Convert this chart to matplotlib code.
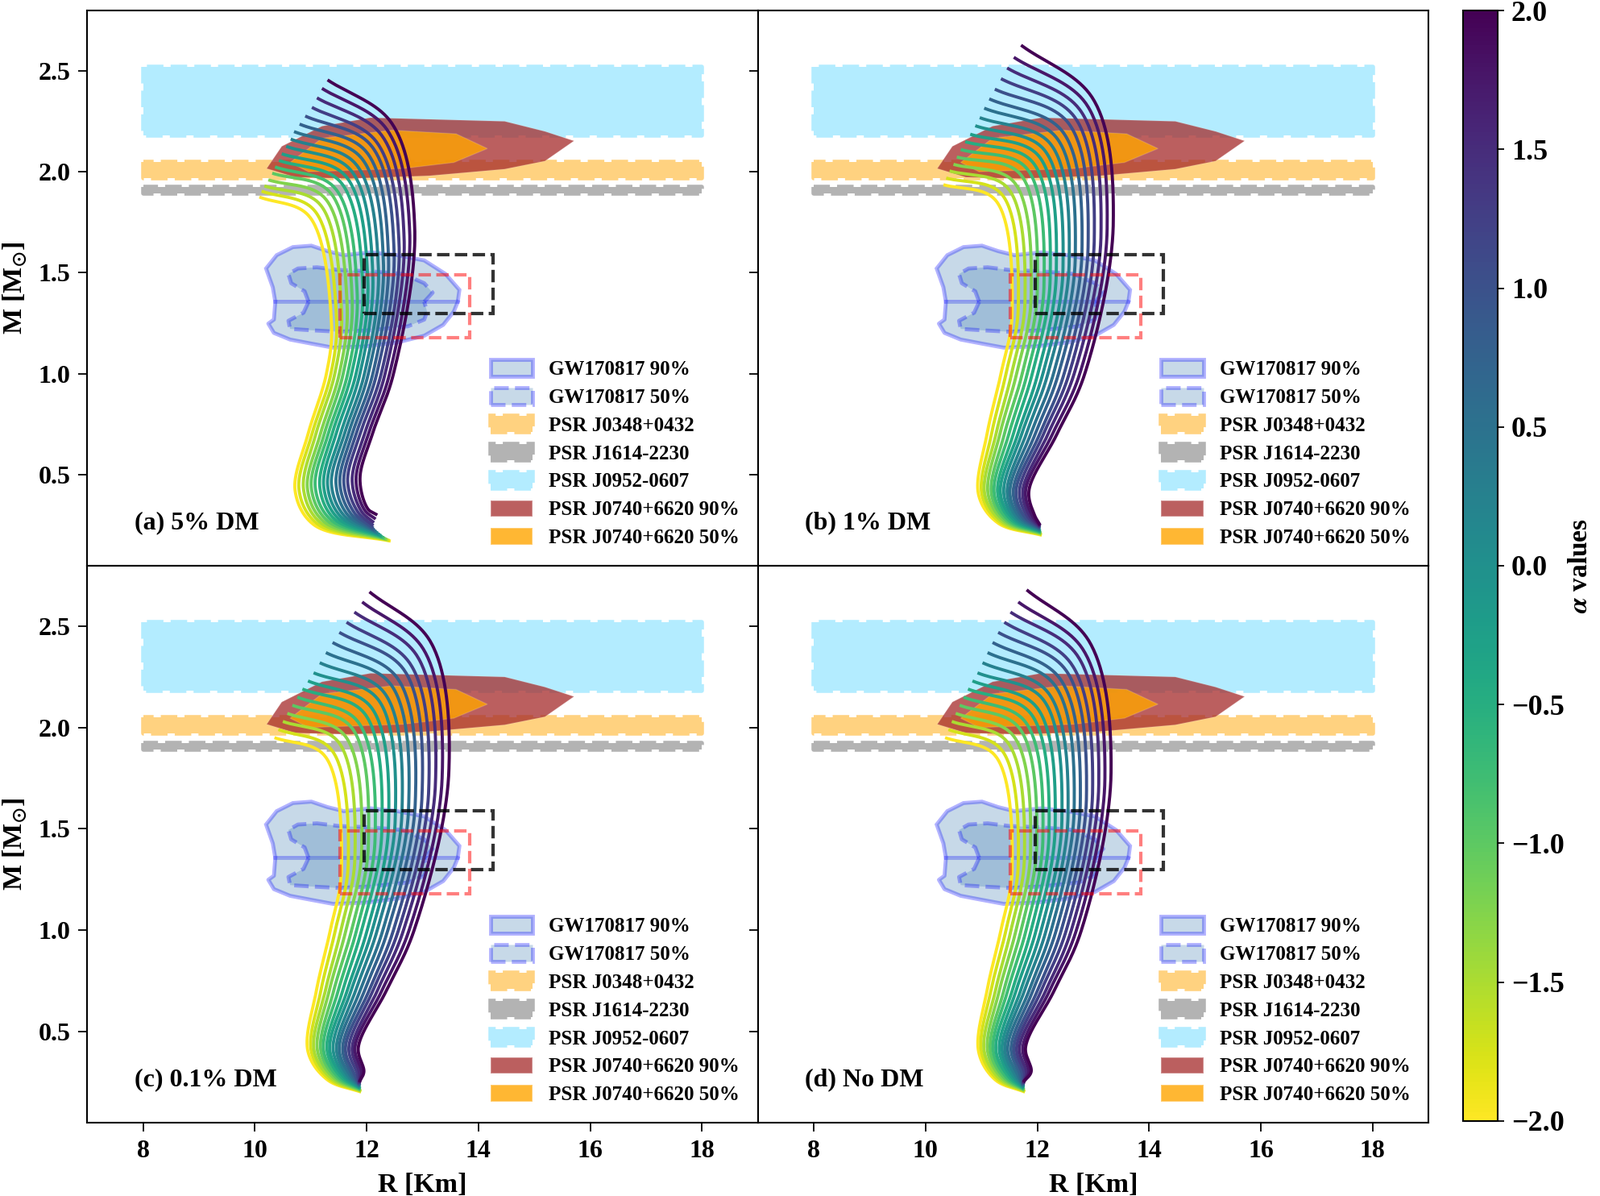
import numpy as np
import matplotlib
matplotlib.use('Agg')
import matplotlib.pyplot as plt
from matplotlib.patches import Polygon, Rectangle, Patch
from matplotlib.colors import Normalize, to_rgba, to_rgb
from matplotlib.cm import ScalarMappable
from matplotlib.ticker import FuncFormatter

plt.rcParams['font.family'] = ['Liberation Serif', 'DejaVu Serif']
plt.rcParams['font.weight'] = 'bold'
plt.rcParams['mathtext.fontset'] = 'stix'
plt.rcParams['axes.unicode_minus'] = True

# ---------------- data ----------------
alpha_values = [-2.0, -1.75, -1.5, -1.25, -1.0, -0.75, -0.5, -0.25, 0.0,
                0.25, 0.5, 0.75, 1.0, 1.25, 1.5, 1.75, 2.0]
panel_labels = ['(a) 5% DM', '(b) 1% DM', '(c) 0.1% DM', '(d) No DM']
x_ticks = [8, 10, 12, 14, 16, 18]
y_ticks = [0.5, 1.0, 1.5, 2.0, 2.5]
cbar_ticks = [-2.0, -1.5, -1.0, -0.5, 0.0, 0.5, 1.0, 1.5, 2.0]

# M-R curve control points (index 0 = alpha -2 ... 16 = alpha +2)
# panel (a) 5% DM
A_R_start = [12.43, 12.41, 12.38, 12.36, 12.33, 12.31, 12.28, 12.26, 12.23, 12.20, 12.17, 12.14, 12.12, 12.12, 12.13, 12.16, 12.19]
A_M_start = [0.171, 0.174, 0.177, 0.180, 0.184, 0.188, 0.193, 0.198, 0.204, 0.211, 0.218, 0.226, 0.235, 0.247, 0.262, 0.280, 0.300]
A_R_hook = [11.06, 11.12, 11.18, 11.24, 11.30, 11.36, 11.42, 11.48, 11.54, 11.60, 11.66, 11.72, 11.78, 11.84, 11.90, 11.96, 12.02]
A_M_hook = [0.251, 0.256, 0.261, 0.266, 0.271, 0.276, 0.281, 0.286, 0.291, 0.296, 0.301, 0.306, 0.311, 0.316, 0.321, 0.326, 0.331]
A_R_min = [10.72, 10.79, 10.87, 10.94, 11.01, 11.08, 11.16, 11.23, 11.30, 11.37, 11.45, 11.52, 11.59, 11.66, 11.74, 11.81, 11.88]
A_M_min = [0.420, 0.424, 0.428, 0.431, 0.435, 0.439, 0.443, 0.446, 0.450, 0.454, 0.458, 0.461, 0.465, 0.469, 0.473, 0.476, 0.480]
A_R_m07 = [10.95, 11.02, 11.09, 11.17, 11.24, 11.31, 11.38, 11.45, 11.53, 11.60, 11.67, 11.74, 11.81, 11.88, 11.96, 12.03, 12.10]
A_R_m10 = [11.28, 11.36, 11.43, 11.51, 11.58, 11.66, 11.73, 11.81, 11.88, 11.96, 12.03, 12.11, 12.18, 12.26, 12.33, 12.41, 12.48]
A_R_max = [11.37, 11.46, 11.55, 11.65, 11.74, 11.83, 11.93, 12.02, 12.11, 12.21, 12.30, 12.39, 12.49, 12.58, 12.67, 12.77, 12.86]
A_M_max = [1.25, 1.28, 1.31, 1.34, 1.37, 1.40, 1.43, 1.46, 1.49, 1.52, 1.55, 1.58, 1.61, 1.64, 1.67, 1.70, 1.72]
A_R_arc = [10.97, 11.06, 11.16, 11.25, 11.34, 11.43, 11.53, 11.62, 11.71, 11.80, 11.90, 11.99, 12.08, 12.17, 12.27, 12.36, 12.45]
A_M_arc = [1.78, 1.81, 1.84, 1.87, 1.90, 1.92, 1.95, 1.98, 2.01, 2.04, 2.07, 2.10, 2.13, 2.15, 2.18, 2.21, 2.24]
A_R_end = [10.08, 10.12, 10.17, 10.24, 10.31, 10.36, 10.43, 10.48, 10.56, 10.64, 10.70, 10.80, 10.90, 11.02, 11.11, 11.20, 11.30]
A_M_end = [1.875, 1.904, 1.930, 1.960, 1.993, 2.024, 2.056, 2.089, 2.126, 2.162, 2.199, 2.236, 2.276, 2.319, 2.366, 2.413, 2.455]

# panel (b) 1% DM
B_R_start = [12.08, 12.08, 12.07, 12.07, 12.07, 12.06, 12.06, 12.06, 12.05, 12.05, 12.05, 12.05, 12.05, 12.05, 12.05, 12.05, 12.05]
B_M_start = [0.200, 0.203, 0.206, 0.209, 0.212, 0.215, 0.218, 0.221, 0.224, 0.228, 0.231, 0.234, 0.237, 0.240, 0.243, 0.247, 0.250]
B_R_hook = [11.30, 11.34, 11.38, 11.42, 11.46, 11.50, 11.54, 11.58, 11.62, 11.66, 11.70, 11.74, 11.78, 11.83, 11.87, 11.91, 11.95]
B_M_hook = [0.260, 0.262, 0.265, 0.268, 0.270, 0.272, 0.275, 0.278, 0.280, 0.282, 0.285, 0.288, 0.290, 0.292, 0.295, 0.298, 0.300]
B_R_min = [10.95, 11.01, 11.06, 11.12, 11.18, 11.23, 11.29, 11.34, 11.40, 11.46, 11.51, 11.57, 11.62, 11.68, 11.74, 11.79, 11.85]
B_M_min = [0.400, 0.401, 0.403, 0.404, 0.405, 0.406, 0.408, 0.409, 0.410, 0.411, 0.412, 0.414, 0.415, 0.416, 0.417, 0.419, 0.420]
B_R_m07 = [11.10, 11.18, 11.26, 11.33, 11.41, 11.49, 11.57, 11.65, 11.72, 11.80, 11.88, 11.96, 12.04, 12.11, 12.19, 12.27, 12.35]
B_R_m10 = [11.35, 11.44, 11.54, 11.63, 11.73, 11.82, 11.91, 12.01, 12.10, 12.19, 12.29, 12.38, 12.48, 12.57, 12.66, 12.76, 12.85]
B_R_max = [11.55, 11.66, 11.78, 11.89, 12.00, 12.12, 12.23, 12.34, 12.46, 12.57, 12.68, 12.80, 12.91, 13.02, 13.14, 13.25, 13.36]
B_M_max = [1.30, 1.33, 1.36, 1.38, 1.41, 1.44, 1.47, 1.50, 1.52, 1.55, 1.58, 1.61, 1.64, 1.67, 1.69, 1.72, 1.75]
B_R_arc = [11.25, 11.36, 11.47, 11.58, 11.69, 11.80, 11.91, 12.02, 12.12, 12.23, 12.34, 12.45, 12.56, 12.67, 12.78, 12.89, 13.00]
B_M_arc = [1.86, 1.89, 1.92, 1.95, 1.99, 2.02, 2.05, 2.08, 2.11, 2.14, 2.17, 2.20, 2.24, 2.27, 2.30, 2.33, 2.36]
B_R_end = [10.32, 10.37, 10.43, 10.50, 10.56, 10.63, 10.71, 10.80, 10.89, 10.97, 11.05, 11.14, 11.24, 11.35, 11.46, 11.58, 11.71]
B_M_end = [1.936, 1.969, 2.004, 2.037, 2.073, 2.110, 2.149, 2.186, 2.228, 2.268, 2.315, 2.361, 2.409, 2.461, 2.514, 2.567, 2.627]

# panel (c) 0.1% DM
C_R_start = [11.90, 11.90, 11.90, 11.89, 11.89, 11.89, 11.89, 11.88, 11.88, 11.88, 11.88, 11.88, 11.87, 11.87, 11.87, 11.87, 11.87]
C_M_start = [0.200, 0.203, 0.206, 0.209, 0.212, 0.215, 0.218, 0.221, 0.224, 0.228, 0.231, 0.234, 0.237, 0.240, 0.243, 0.247, 0.250]
C_R_hook = [11.30, 11.34, 11.38, 11.42, 11.46, 11.50, 11.54, 11.58, 11.62, 11.66, 11.70, 11.74, 11.78, 11.83, 11.87, 11.91, 11.95]
C_M_hook = [0.260, 0.262, 0.265, 0.268, 0.270, 0.272, 0.275, 0.278, 0.280, 0.282, 0.285, 0.288, 0.290, 0.292, 0.295, 0.298, 0.300]
C_R_min = [10.95, 11.01, 11.06, 11.12, 11.18, 11.23, 11.29, 11.34, 11.40, 11.46, 11.51, 11.57, 11.62, 11.68, 11.74, 11.79, 11.85]
C_M_min = [0.400, 0.401, 0.403, 0.404, 0.405, 0.406, 0.408, 0.409, 0.410, 0.411, 0.412, 0.414, 0.415, 0.416, 0.417, 0.419, 0.420]
C_R_m07 = [11.10, 11.18, 11.26, 11.33, 11.41, 11.49, 11.57, 11.65, 11.72, 11.80, 11.88, 11.96, 12.04, 12.11, 12.19, 12.27, 12.35]
C_R_m10 = [11.35, 11.44, 11.54, 11.63, 11.73, 11.82, 11.91, 12.01, 12.10, 12.19, 12.29, 12.38, 12.48, 12.57, 12.66, 12.76, 12.85]
C_R_max = [11.55, 11.67, 11.79, 11.91, 12.03, 12.15, 12.27, 12.39, 12.51, 12.63, 12.75, 12.87, 12.99, 13.11, 13.23, 13.35, 13.47]
C_M_max = [1.30, 1.33, 1.36, 1.39, 1.42, 1.45, 1.48, 1.51, 1.54, 1.57, 1.60, 1.63, 1.66, 1.69, 1.72, 1.75, 1.78]
C_R_arc = [11.25, 11.37, 11.49, 11.61, 11.73, 11.84, 11.96, 12.08, 12.20, 12.32, 12.44, 12.56, 12.68, 12.79, 12.91, 13.03, 13.15]
C_M_arc = [1.86, 1.89, 1.93, 1.96, 2.00, 2.03, 2.07, 2.10, 2.14, 2.17, 2.21, 2.24, 2.28, 2.31, 2.35, 2.38, 2.42]
C_R_end = [10.35, 10.42, 10.50, 10.58, 10.67, 10.76, 10.85, 10.95, 11.05, 11.16, 11.27, 11.39, 11.51, 11.64, 11.78, 11.92, 12.05]
C_M_end = [1.950, 1.990, 2.030, 2.070, 2.110, 2.150, 2.190, 2.230, 2.270, 2.320, 2.370, 2.420, 2.470, 2.520, 2.570, 2.620, 2.670]

# panel (d) No DM
D_R_start = [11.78, 11.78, 11.77, 11.77, 11.77, 11.76, 11.76, 11.76, 11.76, 11.76, 11.75, 11.75, 11.75, 11.75, 11.75, 11.75, 11.75]
D_M_start = [0.200, 0.203, 0.206, 0.209, 0.212, 0.215, 0.218, 0.221, 0.224, 0.228, 0.231, 0.234, 0.237, 0.240, 0.243, 0.247, 0.250]
D_R_hook = [11.25, 11.29, 11.33, 11.37, 11.41, 11.45, 11.49, 11.53, 11.57, 11.61, 11.65, 11.69, 11.73, 11.77, 11.81, 11.85, 11.89]
D_M_hook = [0.260, 0.262, 0.265, 0.268, 0.270, 0.272, 0.275, 0.278, 0.280, 0.282, 0.285, 0.288, 0.290, 0.292, 0.295, 0.298, 0.300]
D_R_min = [10.95, 11.00, 11.05, 11.11, 11.16, 11.21, 11.26, 11.32, 11.37, 11.42, 11.47, 11.53, 11.58, 11.63, 11.68, 11.74, 11.79]
D_M_min = [0.400, 0.401, 0.403, 0.404, 0.405, 0.406, 0.408, 0.409, 0.410, 0.411, 0.412, 0.414, 0.415, 0.416, 0.417, 0.419, 0.420]
D_R_m07 = [11.10, 11.17, 11.25, 11.32, 11.40, 11.47, 11.55, 11.62, 11.70, 11.77, 11.85, 11.92, 12.00, 12.07, 12.15, 12.22, 12.30]
D_R_m10 = [11.35, 11.44, 11.53, 11.62, 11.71, 11.80, 11.89, 11.98, 12.07, 12.16, 12.25, 12.34, 12.43, 12.52, 12.61, 12.70, 12.79]
D_R_max = [11.55, 11.66, 11.77, 11.88, 11.99, 12.10, 12.21, 12.32, 12.44, 12.55, 12.66, 12.77, 12.88, 12.99, 13.10, 13.21, 13.32]
D_M_max = [1.30, 1.33, 1.36, 1.39, 1.42, 1.45, 1.48, 1.51, 1.54, 1.57, 1.60, 1.63, 1.66, 1.69, 1.72, 1.75, 1.78]
D_R_arc = [11.25, 11.36, 11.46, 11.57, 11.67, 11.78, 11.88, 11.99, 12.10, 12.20, 12.31, 12.41, 12.52, 12.62, 12.73, 12.83, 12.94]
D_M_arc = [1.86, 1.89, 1.93, 1.96, 2.00, 2.03, 2.07, 2.10, 2.14, 2.17, 2.21, 2.24, 2.28, 2.31, 2.35, 2.38, 2.42]
D_R_end = [10.35, 10.41, 10.47, 10.54, 10.61, 10.68, 10.76, 10.84, 10.93, 11.02, 11.11, 11.20, 11.30, 11.41, 11.52, 11.66, 11.81]
D_M_end = [1.950, 1.990, 2.030, 2.070, 2.110, 2.150, 2.190, 2.230, 2.270, 2.320, 2.370, 2.420, 2.470, 2.520, 2.570, 2.620, 2.680]

M_AT_R07 = 0.7
M_AT_R10 = 1.0

# observational constraints
J0952_band = (2.18, 2.52)       # PSR J0952-0607
J0348_band = (1.97, 2.05)       # PSR J0348+0432
J1614_band = (1.892, 1.924)     # PSR J1614-2230
band_R = (8.0, 18.0)
J0030_riley = (11.52, 13.85, 1.18, 1.49)   # R_lo, R_hi, M_lo, M_hi
J0030_miller = (11.96, 14.26, 1.30, 1.59)

J0740_90_R = [10.21, 10.48, 11.20, 12.07, 14.47, 15.19, 15.71, 15.19, 14.47, 13.12, 11.68, 10.72]
J0740_90_M = [2.016, 2.126, 2.226, 2.268, 2.250, 2.200, 2.153, 2.053, 2.013, 1.980, 1.966, 1.973]
J0740_50_R = [10.63, 11.20, 12.45, 13.60, 14.16, 13.56, 12.65, 10.96]
J0740_50_M = [2.046, 2.166, 2.206, 2.188, 2.115, 2.046, 2.016, 2.000]

GW90_up_R = [10.365, 10.32, 10.20, 10.39, 10.68, 11.01, 11.30, 11.59, 12.07, 12.55, 13.03, 13.41, 13.66, 13.63]
GW90_up_M = [1.356, 1.428, 1.521, 1.587, 1.627, 1.634, 1.607, 1.587, 1.601, 1.587, 1.561, 1.494, 1.415, 1.356]
GW90_lo_R = [10.365, 10.34, 10.24, 10.34, 10.63, 11.01, 11.40, 11.97, 12.55, 13.03, 13.37, 13.56, 13.63]
GW90_lo_M = [1.356, 1.268, 1.248, 1.202, 1.169, 1.149, 1.129, 1.135, 1.155, 1.188, 1.242, 1.308, 1.356]
GW50_up_R = [10.96, 10.89, 10.65, 10.60, 10.77, 11.11, 11.49, 12.07, 12.65, 13.03, 13.18, 13.03]
GW50_up_M = [1.356, 1.408, 1.448, 1.494, 1.521, 1.527, 1.514, 1.507, 1.494, 1.448, 1.401, 1.356]
GW50_lo_R = [10.96, 10.87, 10.60, 10.63, 11.01, 11.49, 12.07, 12.74, 13.03, 13.08, 13.03]
GW50_lo_M = [1.356, 1.302, 1.262, 1.222, 1.215, 1.208, 1.215, 1.235, 1.268, 1.308, 1.356]

legend_labels = ['GW170817 90%', 'GW170817 50%', 'PSR J0348+0432', 'PSR J1614-2230',
                 'PSR J0952-0607', 'PSR J0740+6620 90%', 'PSR J0740+6620 50%']

panels = [
    (A_R_start, A_M_start, A_R_hook, A_M_hook, A_R_min, A_M_min, A_R_m07, A_R_m10,
     A_R_max, A_M_max, A_R_arc, A_M_arc, A_R_end, A_M_end),
    (B_R_start, B_M_start, B_R_hook, B_M_hook, B_R_min, B_M_min, B_R_m07, B_R_m10,
     B_R_max, B_M_max, B_R_arc, B_M_arc, B_R_end, B_M_end),
    (C_R_start, C_M_start, C_R_hook, C_M_hook, C_R_min, C_M_min, C_R_m07, C_R_m10,
     C_R_max, C_M_max, C_R_arc, C_M_arc, C_R_end, C_M_end),
    (D_R_start, D_M_start, D_R_hook, D_M_hook, D_R_min, D_M_min, D_R_m07, D_R_m10,
     D_R_max, D_M_max, D_R_arc, D_M_arc, D_R_end, D_M_end),
]


def smooth_curve(R, M, n=40, sy=3.6):
    """Centripetal Catmull-Rom line through the read control points."""
    P = np.column_stack([np.asarray(R, float), np.asarray(M, float) * sy])
    P = np.vstack([2 * P[0] - P[1], P, 2 * P[-1] - P[-2]])
    segs = []
    for i in range(len(P) - 3):
        p0, p1, p2, p3 = P[i], P[i + 1], P[i + 2], P[i + 3]
        t0 = 0.0
        t1 = t0 + max(np.linalg.norm(p1 - p0), 1e-6) ** 0.5
        t2 = t1 + max(np.linalg.norm(p2 - p1), 1e-6) ** 0.5
        t3 = t2 + max(np.linalg.norm(p3 - p2), 1e-6) ** 0.5
        t = np.linspace(t1, t2, n)[:, None]
        A1 = (t1 - t) / (t1 - t0) * p0 + (t - t0) / (t1 - t0) * p1
        A2 = (t2 - t) / (t2 - t1) * p1 + (t - t1) / (t2 - t1) * p2
        A3 = (t3 - t) / (t3 - t2) * p2 + (t - t2) / (t3 - t2) * p3
        B1 = (t2 - t) / (t2 - t0) * A1 + (t - t0) / (t2 - t0) * A2
        B2 = (t3 - t) / (t3 - t1) * A2 + (t - t1) / (t3 - t1) * A3
        C = (t2 - t) / (t2 - t1) * B1 + (t - t1) / (t2 - t1) * B2
        segs.append(C if i == 0 else C[1:])
    C = np.vstack(segs)
    return C[:, 0], C[:, 1] / sy


def flat(color, a):
    """Opaque equivalent of a translucent colour on white."""
    r, g, b = to_rgb(color)
    return (1 - a + a * r, 1 - a + a * g, 1 - a + a * b)


# ---------------- figure ----------------
fig = plt.figure(figsize=(19.86, 14.84), dpi=100)
W = 832.4 / 1986
lefts = [108.3 / 1986, 108.3 / 1986 + W]
top_b, top_h = 1 - 701.7 / 1484, 689.0 / 1484
bot_b, bot_h = 1 - 1392.7 / 1484, 691.0 / 1484
rects = [(lefts[0], top_b, W, top_h), (lefts[1], top_b, W, top_h),
         (lefts[0], bot_b, W, bot_h), (lefts[1], bot_b, W, bot_h)]

cmap = plt.get_cmap('viridis_r')
norm = Normalize(vmin=-2, vmax=2)

c_j0952 = flat('deepskyblue', 0.3)
c_j0348 = flat('orange', 0.5)
c_j1614 = flat('gray', 0.6)
band_specs = [(J0952_band, c_j0952), (J0348_band, c_j0348), (J1614_band, c_j1614)]
gw_edge = to_rgba('blue', 0.3)
gw_face = to_rgba('steelblue', 0.3)

for k, (rect, pdata, plabel) in enumerate(zip(rects, panels, panel_labels)):
    ax = fig.add_axes(rect)
    (Rs, Ms, Rh, Mh, Rmn, Mmn, R07, R10, Rmx, Mmx, Ra, Ma, Re, Me) = pdata

    # bands
    for (lo, hi), col in band_specs:
        ax.fill_between(band_R, [lo] * 2, [hi] * 2, facecolor=col, edgecolor=col,
                        linestyle='--', linewidth=4.0, zorder=1)
    # J0740
    ax.add_patch(Polygon(np.column_stack([J0740_90_R, J0740_90_M]), closed=True,
                         facecolor=to_rgba('brown', 0.75), edgecolor=(1, 1, 1, 0.15),
                         linewidth=1.0, zorder=2))
    ax.add_patch(Polygon(np.column_stack([J0740_50_R, J0740_50_M]), closed=True,
                         facecolor=to_rgba('orange', 0.8), edgecolor=(1, 1, 1, 0.15),
                         linewidth=1.0, zorder=2))
    # GW170817: upper 90% lobe closed, the rest drawn as fills + open outlines
    ax.add_patch(Polygon(np.column_stack([GW90_up_R, GW90_up_M]), closed=True,
                         facecolor=gw_face, edgecolor=gw_edge, linewidth=3.5, zorder=2))
    ax.add_patch(Polygon(np.column_stack([GW90_lo_R, GW90_lo_M]), closed=True,
                         facecolor=gw_face, edgecolor='none', zorder=2))
    ax.plot(GW90_lo_R, GW90_lo_M, color=gw_edge, linewidth=3.5, zorder=2)
    for gr, gm in [(GW50_up_R, GW50_up_M), (GW50_lo_R, GW50_lo_M)]:
        ax.add_patch(Polygon(np.column_stack([gr, gm]), closed=True, facecolor=gw_face,
                             edgecolor='none', zorder=2))
        ax.plot(gr, gm, color=gw_edge, linewidth=3.5, linestyle='--', zorder=2)

    # M-R curves
    for i, a in enumerate(alpha_values):
        cr = [Rs[i], Rh[i], Rmn[i], R07[i], R10[i], Rmx[i], Ra[i], Re[i]]
        cm_ = [Ms[i], Mh[i], Mmn[i], M_AT_R07, M_AT_R10, Mmx[i], Ma[i], Me[i]]
        xr, ym = smooth_curve(cr, cm_)
        ax.plot(xr, ym, color=cmap(norm(a)), linewidth=2.8, zorder=3,
                solid_capstyle='butt')

    # NICER J0030 boxes
    for (r0, r1, m0, m1), col, al in [(J0030_miller, 'black', 0.8), (J0030_riley, 'red', 0.5)]:
        ax.add_patch(Rectangle((r0, m0), r1 - r0, m1 - m0, fill=False, edgecolor=col,
                               alpha=al, linestyle='--', linewidth=3, zorder=4))

    ax.set_xlim(7, 19)
    ax.set_ylim(0.05, 2.8)
    ax.set_xticks(x_ticks)
    ax.set_yticks(y_ticks)
    ax.tick_params(direction='out', length=8, width=1.3, labelsize=23, pad=7)
    for sp in ax.spines.values():
        sp.set_linewidth(1.5)
    if k % 2 == 0:
        ax.set_ylabel(r'M [M$_{\odot}$]', fontsize=24.5, fontweight='bold', labelpad=8)
    else:
        ax.tick_params(labelleft=False)
    if k >= 2:
        ax.set_xlabel('R [Km]', fontsize=24.5, fontweight='bold', labelpad=9)
    else:
        ax.tick_params(labelbottom=False)

    ax.text(0.07, 0.077, plabel, transform=ax.transAxes, fontsize=23,
            fontweight='bold', va='center', ha='left')

    handles = [
        Patch(facecolor=gw_face, edgecolor=gw_edge, linewidth=3.5),
        Patch(facecolor=gw_face, edgecolor=gw_edge, linewidth=3.5, linestyle='--'),
        Patch(facecolor=c_j0348, edgecolor=c_j0348, linewidth=4.0, linestyle='--'),
        Patch(facecolor=c_j1614, edgecolor=c_j1614, linewidth=4.0, linestyle='--'),
        Patch(facecolor=c_j0952, edgecolor=c_j0952, linewidth=4.0, linestyle='--'),
        Patch(facecolor=to_rgba('brown', 0.75), edgecolor=(1, 1, 1, 0.3), linewidth=1.5),
        Patch(facecolor=to_rgba('orange', 0.8), edgecolor=(1, 1, 1, 0.3), linewidth=1.5),
    ]
    ax.legend(handles, legend_labels, loc='lower right', frameon=False, fontsize=18,
              handlelength=2.1, handleheight=0.88, labelspacing=0.44, handletextpad=0.8,
              borderaxespad=0.5)

# colorbar
cax = fig.add_axes([1815.7 / 1986, 1 - 1390.7 / 1484, 43.3 / 1986, 1377.5 / 1484])
sm = ScalarMappable(norm=norm, cmap=cmap)
cb = fig.colorbar(sm, cax=cax, ticks=cbar_ticks)
cb.ax.yaxis.set_major_formatter(FuncFormatter(lambda v, p: f'{v:.1f}'.replace('-', '\u2212')))
cb.ax.tick_params(labelsize=26, length=6, width=1.3, pad=6)
cb.outline.set_linewidth(1.5)
cb.set_label(r'$\boldsymbol{\alpha}$ values', fontsize=24, fontweight='bold')
cb.ax.yaxis.set_label_coords(3.0, 0.5)

fig.savefig('out.png', dpi=100)
